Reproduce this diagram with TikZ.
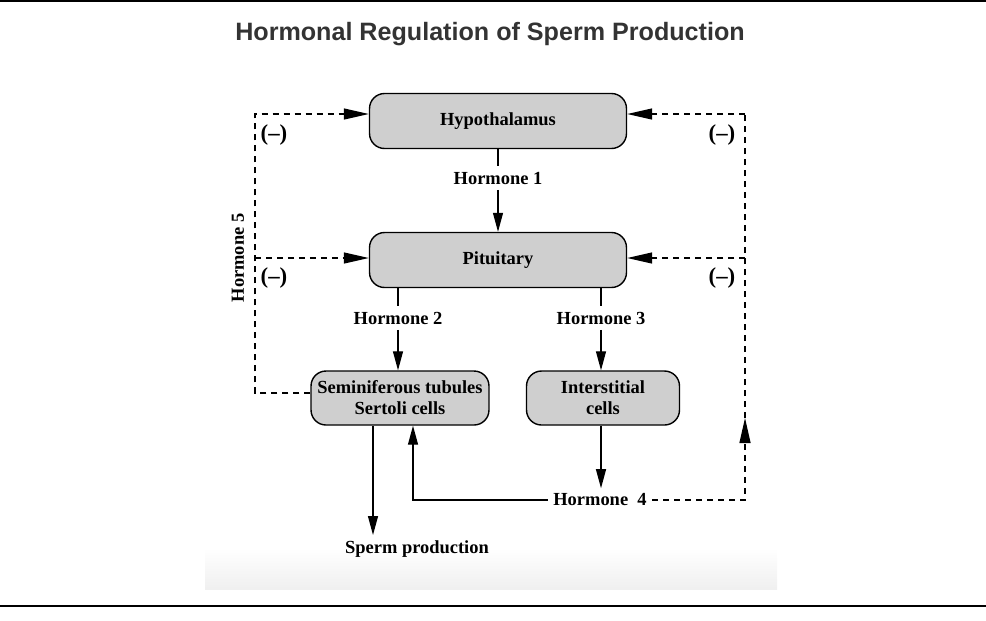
\documentclass[tikz,border=0pt]{standalone}
\usepackage{fontspec}
\setmainfont{Liberation Serif}
\newfontfamily\titlefont{Liberation Sans}
\usetikzlibrary{arrows.meta, positioning, shadings}

\begin{document}
\begin{tikzpicture}[
    x=0.02cm, y=-0.02cm,
    font=\fontsize{10.5}{12}\selectfont\bfseries,
    every node/.style={inner sep=2pt},
    box/.style   ={draw=black, line width=0.8pt, fill=black!19,
                   rounded corners=0.3cm, align=center},
    arr/.style   ={-{Triangle[length=3.8mm,width=2mm]}, line width=0.7pt},
    fb/.style    ={dash pattern=on 1.2mm off 1mm, line width=0.7pt},
    fbarr/.style ={fb, -{Triangle[length=5mm,width=2.2mm]}},
    lbl/.style   ={fill=white, inner sep=3pt},
    minus/.style ={font=\fontsize{13}{14}\selectfont\bfseries},
    title/.style ={font=\titlefont\fontsize{14.3}{16}\selectfont\bfseries,
                   text=black!80},
  ]
  \useasboundingbox (0,0) rectangle (986,620);

  %% --- frame and title -------------------------------------------------
  \fill[top color=white, bottom color=black!6, draw=none]
       (205,548) rectangle (777,589);
  \draw[line width=1.2pt] (0,1) -- (986,1);
  \draw[line width=1.2pt] (0,606) -- (986,606);
  \node[title] (ttl) at (490,34) {Hormonal Regulation of Sperm Production};

  %% --- glands and cells ------------------------------------------------
  \node[box, minimum width=5.14cm, minimum height=1.1cm]  (hyp)  at (498,121) {Hypothalamus};
  \node[box, minimum width=5.14cm, minimum height=1.1cm]  (pit)  at (498,260) {Pituitary};
  \node[box, minimum width=3.56cm, minimum height=1.08cm] (semi) at (400,398)
        {Seminiferous tubules\\Sertoli cells};
  \node[box, minimum width=3.06cm, minimum height=1.08cm] (int)  at (603,398)
        {Interstitial\\cells};

  %% --- hormone labels --------------------------------------------------
  \node[lbl] (h1) at (498,178) {Hormone 1};
  \node[lbl] (h2) at (398,318) {Hormone 2};
  \node[lbl] (h3) at (601,318) {Hormone 3};
  \node[lbl] (h4) at (600,500) {Hormone\ \ 4};
  \node (sperm) at (417,549) {Sperm production};
  \node[rotate=90] (h5) at (238,258) {Hormone 5};

  %% --- feedback signs --------------------------------------------------
  \node[minus] (m1) at (274,135) {(--)};
  \node[minus] (m2) at (722,135) {(--)};
  \node[minus] (m3) at (274,278) {(--)};
  \node[minus] (m4) at (722,278) {(--)};

  %% --- corners of the feedback loops -----------------------------------
  \coordinate (ltop) at (255,114);
  \coordinate (lmid) at (255,258);
  \coordinate (rtop) at (745,114);
  \coordinate (rmid) at (745,258);
  \coordinate (rup)  at (745,418);
  \coordinate (stip) at (373,535);

  %% --- stimulating hormones --------------------------------------------
  \draw[line width=0.7pt] (hyp) -- (h1);
  \draw[arr] (h1) -- (pit);
  \draw[line width=0.7pt] (h2 |- pit.south) -- (h2);
  \draw[arr] (h2) -- (h2 |- semi.north);
  \draw[line width=0.7pt] (h3 |- pit.south) -- (h3);
  \draw[arr] (h3) -- (h3 |- int.north);
  \draw[arr] (int.south -| h3) -- (h4.north -| h3);
  \draw[arr] (h4.west) -| ([xshift=0.26cm]semi.south);
  \draw[arr] (stip |- semi.south) -- (stip);

  %% --- negative feedback -----------------------------------------------
  \draw[fbarr] ([yshift=0.1cm]semi.west) -| (ltop) -- (ltop -| hyp.west);
  \draw[fbarr] (lmid) -- (lmid -| pit.west);
  \draw[fbarr] (h4.east) -| (rup);
  \draw[fb] (rup) -- (rtop);
  \draw[fbarr] (rtop) -- (rtop -| hyp.east);
  \draw[fbarr] (rmid) -- (rmid -| pit.east);

\end{tikzpicture}
\end{document}
